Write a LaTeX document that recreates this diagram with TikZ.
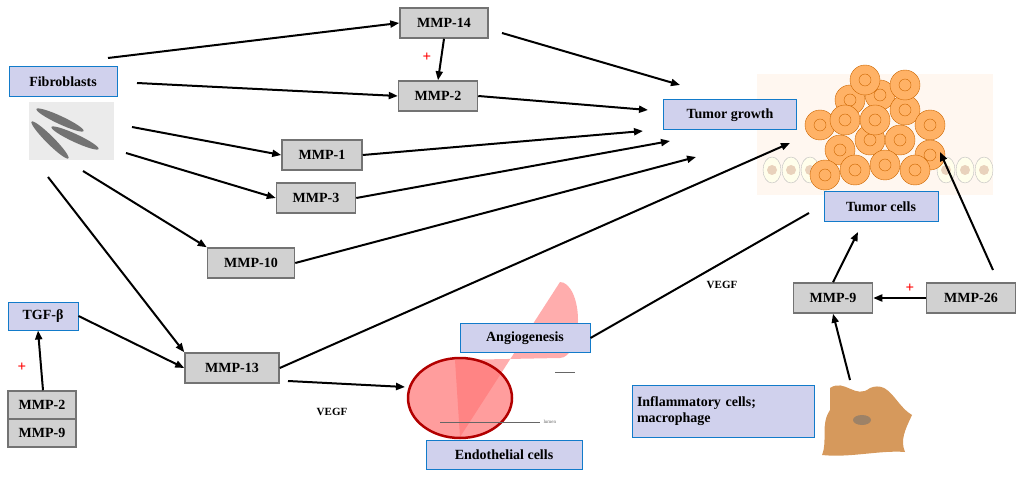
\documentclass[tikz,border=0pt]{standalone}
\usepackage{fontspec}
\setmainfont{Liberation Serif}
\usetikzlibrary{arrows.meta,shapes.geometric}
\begin{document}
\begin{tikzpicture}[x=1pt,y=-1pt,
 font=\fontsize{14}{16}\selectfont\bfseries,
 blue/.style={draw=cyan!60!blue,line width=1pt,fill=cyan!25!blue!18!white,inner sep=2pt},
 gray/.style={draw=black!55,line width=1.5pt,fill=black!18,inner sep=2pt},
 ar/.style={-{Triangle[length=9pt,width=7pt]},line width=2pt},
 pl/.style={text=red,font=\fontsize{15}{15}\selectfont\bfseries}]
\useasboundingbox (0,0) rectangle (1024,478);
% fibroblast image
\fill[black!8] (29,102) rectangle (114,160);
\foreach \x/\y/\a in {60/120/-25,75/138/-25,50/140/-45}
  \fill[black!55] (\x,\y) ellipse [x radius=26,y radius=4,rotate=\a];
% tumor image
\fill[orange!6] (757,74) rectangle (993,195);
\foreach \x in {772,791,810,946,965,984}
 {\draw[black!25,fill=yellow!8] (\x,170) ellipse [x radius=9,y radius=13];
  \fill[brown!35] (\x,170) circle (5);}
\foreach \x/\y in {820/125,850/100,880/95,905/110,930/125,840/150,870/140,900/140,930/155,825/175,855/170,885/165,915/170,845/120,875/120,905/85,865/80}
 {\draw[orange!80!black,fill=orange!60] (\x,\y) circle (15);
  \draw[orange!80!black] (\x,\y) circle (6);}
% vessel
\fill[red!40,opacity=0.8] (455,360) -- (560,358) arc (90:-90:18 and 38) -- (460,437) -- cycle;
\draw[red!70!black,line width=2.5pt,fill=red!55,fill opacity=0.7] (460,398) ellipse [x radius=52,y radius=40];
\draw[black!60] (440,422) -- (540,422) node[right,font=\tiny]{lumen};
\draw[black!60] (555,372) -- (575,372);
% macrophage
\fill[brown!80!orange!80] (830,388) .. controls (845,378) and (855,400) .. (870,388) .. controls (890,380) and (895,405) .. (912,415) .. controls (905,430) and (900,440) .. (905,452) .. controls (880,450) and (850,458) .. (822,455) .. controls (828,440) and (820,425) .. (830,410) -- cycle;
\fill[brown!60!black!70] (862,420) ellipse [x radius=9,y radius=5];
% nodes
\node[blue,minimum width=108pt,minimum height=30pt] (fib) at (63,82) {Fibroblasts};
\node[gray,minimum width=88pt,minimum height=30pt] (m14) at (444,23) {MMP-14};
\node[gray,minimum width=79pt,minimum height=30pt] (m2) at (438,96) {MMP-2};
\node[gray,minimum width=80pt,minimum height=30pt] (m1) at (322,155) {MMP-1};
\node[gray,minimum width=79pt,minimum height=30pt] (m3) at (316,198) {MMP-3};
\node[gray,minimum width=87pt,minimum height=30pt] (m10) at (251,263) {MMP-10};
\node[gray,minimum width=94pt,minimum height=30pt] (m13) at (232,368) {MMP-13};
\node[blue,minimum width=70pt,minimum height=28pt] (tgf) at (43,316) {TGF-β};
\node[gray,minimum width=68pt,minimum height=28pt] (b2) at (42,405) {MMP-2};
\node[gray,minimum width=68pt,minimum height=28pt] (b9) at (42,433) {MMP-9};
\node[blue,minimum width=133pt,minimum height=30pt] (tg) at (730,115) {Tumor growth};
\node[blue,minimum width=114pt,minimum height=30pt] (tc) at (881,207) {Tumor cells};
\node[gray,minimum width=79pt,minimum height=30pt] (m9) at (833,298) {MMP-9};
\node[gray,minimum width=89pt,minimum height=30pt] (m26) at (971,298) {MMP-26};
\node[blue,minimum width=182pt,minimum height=52pt,align=left,text width=172pt] (inf) at (723,411) {Inflammatory cells;\\macrophage};
\node[blue,minimum width=130pt,minimum height=29pt] (ang) at (525,338) {Angiogenesis};
\node[blue,minimum width=156pt,minimum height=29pt] (end) at (504,455) {Endothelial cells};
\node[font=\fontsize{11}{12}\selectfont\bfseries] (v1) at (722,285) {VEGF};
\node[font=\fontsize{11}{12}\selectfont\bfseries] (v2) at (332,412) {VEGF};
\coordinate (tum) at (790,143);
\coordinate (mac) at (850,380);
\coordinate (ves) at (405,387);
% arrows
\draw[ar] (108,58) -- (m14.west);
\draw[ar] (137,83) -- (m2.west);
\draw[ar] (132,127) -- (m1.west);
\draw[ar] (126,153) -- (m3.west);
\draw[ar] (83,171) -- (m10.north west);
\draw[ar] (48,177) -- (m13.north west);
\draw[ar] (m14.south) -- (m2.north);
\node[pl] at (427,57) {+};
\draw[ar] (502,33) -- (680,85);
\draw[ar] (m2.east) -- (648,110);
\draw[ar] (m1.east) -- (643,131);
\draw[ar] (m3.east) -- (670,141);
\draw[ar] (m10.east) -- (696,157);
\draw[ar] (m13.east) -- (tum);
\draw[line width=2pt] (ang.east) -- (809,213);
\draw[ar] (m9.north) -- (858,232);
\draw[ar] (993,270) -- (940,152);
\draw[ar] (m26.west) -- (m9.east);
\node[pl] at (910,288) {+};
\draw[ar] (mac) -- (m9.south);
\draw[ar] (288,381) -- (ves);
\draw[ar] (tgf.east) -- (m13.west);
\draw[ar] (b2.north -| tgf.south) -- ([xshift=-5pt]tgf.south);
\node[pl] at (22,367) {+};
\end{tikzpicture}
\end{document}
